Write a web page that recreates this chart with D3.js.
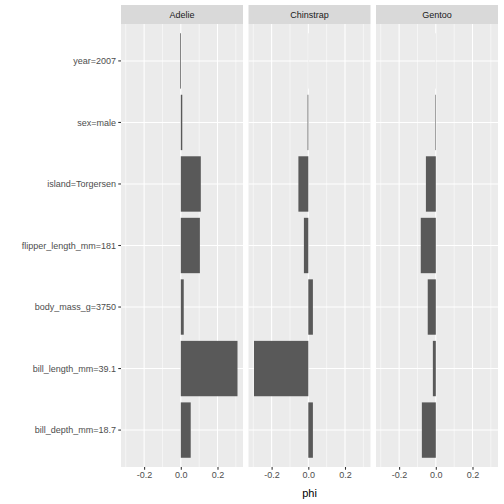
<!DOCTYPE html>
<html>
<head>
<meta charset="utf-8">
<script src="https://cdn.jsdelivr.net/npm/d3@7"></script>
<style>
  body { margin: 0; background: #fff; }
  text { font-family: "Liberation Sans", Arial, sans-serif; }
</style>
</head>
<body>
<svg id="chart"></svg>
<script>
// features, bottom to top order as ggplot draws a discrete y axis
const features = ["bill_depth_mm=18.7", "bill_length_mm=39.1", "body_mass_g=3750",
  "flipper_length_mm=181", "island=Torgersen", "sex=male", "year=2007"];
const species = ["Adelie", "Chinstrap", "Gentoo"];
const adelie = [0.054, 0.309, 0.016, 0.104, 0.109, 0.008, -0.004];
const chinstrap = [0.025, -0.296, 0.025, -0.024, -0.054, -0.004, 0.0005];
const gentoo = [-0.076, -0.016, -0.044, -0.082, -0.054, -0.003, 0.0005];
const xTicks = [-0.2, 0.0, 0.2];
const xMinor = [-0.3, -0.1, 0.1, 0.3];

const values = { Adelie: adelie, Chinstrap: chinstrap, Gentoo: gentoo };

let width = 504;
let height = 504;
let panelLeft = 121;
let panelRight = 498;
let panelTop = 24;
let panelBottom = 467;
let stripTop = 5;
let spacing = 5.5;
let panelW = (panelRight - panelLeft - 2 * spacing) / 3;

const svg = d3.select("#chart").attr("width", width).attr("height", height);

const x = d3.scaleLinear().domain([-0.326, 0.339]).range([0, panelW]);
// discrete axis with 0.6 expansion on both sides
const y = d3.scaleLinear().domain([0.4, features.length + 0.6]).range([panelBottom, panelTop]);
const barH = (y(0) - y(0.9));
// ggplot prints a plain hyphen for negatives
const fmt = d => d3.format(".1f")(d).replace("\u2212", "-");

// y axis labels and ticks
const yAxis = svg.append("g");
features.forEach(function (f, i) {
  const yy = y(i + 1);
  yAxis.append("line")
    .attr("x1", panelLeft - 2.75).attr("x2", panelLeft)
    .attr("y1", yy).attr("y2", yy)
    .attr("stroke", "#333333").attr("stroke-width", 1.07);
  yAxis.append("text")
    .attr("x", panelLeft - 5)
    .attr("y", yy)
    .attr("dy", "0.35em")
    .attr("text-anchor", "end")
    .attr("font-size", "9px")
    .attr("fill", "#4D4D4D")
    .text(f);
});

species.forEach(function (s, p) {
  const left = panelLeft + p * (panelW + spacing);
  const g = svg.append("g").attr("transform", "translate(" + left + ",0)");

  // strip
  g.append("rect")
    .attr("x", 0).attr("y", stripTop)
    .attr("width", panelW).attr("height", panelTop - stripTop)
    .attr("fill", "#D9D9D9");
  g.append("text")
    .attr("x", panelW / 2).attr("y", (stripTop + panelTop) / 2)
    .attr("dy", "0.35em")
    .attr("text-anchor", "middle")
    .attr("font-size", "9px")
    .attr("fill", "#1A1A1A")
    .text(s);

  // panel background
  g.append("rect")
    .attr("x", 0).attr("y", panelTop)
    .attr("width", panelW).attr("height", panelBottom - panelTop)
    .attr("fill", "#EBEBEB");

  // grid
  g.selectAll(".minor")
    .data(xMinor)
    .enter()
    .append("line")
    .attr("x1", d => x(d)).attr("x2", d => x(d))
    .attr("y1", panelTop).attr("y2", panelBottom)
    .attr("stroke", "#fff").attr("stroke-width", 0.53);
  g.selectAll(".major")
    .data(xTicks)
    .enter()
    .append("line")
    .attr("x1", d => x(d)).attr("x2", d => x(d))
    .attr("y1", panelTop).attr("y2", panelBottom)
    .attr("stroke", "#fff").attr("stroke-width", 1.07);
  g.selectAll(".ymajor")
    .data(features)
    .enter()
    .append("line")
    .attr("x1", 0).attr("x2", panelW)
    .attr("y1", (d, i) => y(i + 1)).attr("y2", (d, i) => y(i + 1))
    .attr("stroke", "#fff").attr("stroke-width", 1.07);

  // bars
  g.selectAll(".bar")
    .data(values[s])
    .enter()
    .append("rect")
    .attr("x", d => x(Math.min(0, d)))
    .attr("width", d => Math.abs(x(d) - x(0)))
    .attr("y", (d, i) => y(i + 1.45))
    .attr("height", barH)
    .attr("fill", "#595959");

  // x axis
  const ax = g.append("g").attr("transform", "translate(0," + panelBottom + ")")
    .call(d3.axisBottom(x).tickValues(xTicks).tickFormat(fmt).tickSize(2.75).tickPadding(2));
  ax.select(".domain").remove();
  ax.selectAll("line").attr("stroke", "#333333").attr("stroke-width", 1.07);
  ax.selectAll("text")
    .attr("font-size", "9px")
    .attr("fill", "#4D4D4D")
    .style("font-family", "'Liberation Sans', Arial, sans-serif");
});

svg.append("text")
  .attr("x", (panelLeft + panelRight) / 2)
  .attr("y", 497)
  .attr("text-anchor", "middle")
  .attr("font-size", "11px")
  .attr("fill", "#000")
  .text("phi");
</script>
</body>
</html>
